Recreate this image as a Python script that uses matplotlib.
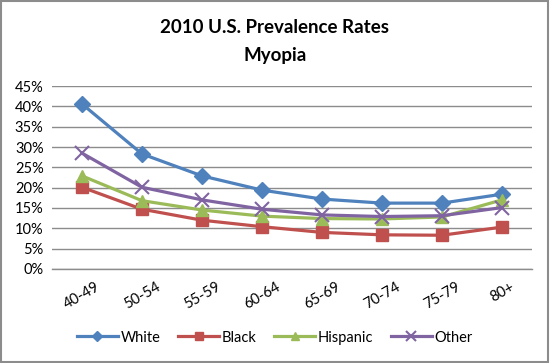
import matplotlib
matplotlib.use("Agg")
import matplotlib.pyplot as plt
import matplotlib.ticker as mticker
from matplotlib.patches import Rectangle
import numpy as np

FONT = "Lato"
plt.rcParams["font.family"] = [FONT, "DejaVu Sans"]

# ---------------------------------------------------------------------------
# Data (prevalence, fraction)
# ---------------------------------------------------------------------------
age_groups = ["40-49", "50-54", "55-59", "60-64", "65-69", "70-74", "75-79", "80+"]
white = [0.406, 0.283, 0.229, 0.194, 0.172, 0.162, 0.162, 0.184]
black = [0.201, 0.147, 0.120, 0.104, 0.090, 0.084, 0.083, 0.103]
hispanic = [0.229, 0.168, 0.145, 0.130, 0.124, 0.123, 0.128, 0.170]
other = [0.285, 0.201, 0.170, 0.147, 0.133, 0.129, 0.131, 0.151]

series = [
    ("White", white, "#4F81BD", "D", 8),
    ("Black", black, "#C0504D", "s", 9),
    ("Hispanic", hispanic, "#9BBB59", "^", 9),
    ("Other", other, "#8064A2", "x", 10),
]

fig = plt.figure(figsize=(5.5, 3.63), dpi=100)
fig.patch.set_facecolor("white")
ax = fig.add_axes([0.0945, 0.259, 0.8727, 0.504])

x = np.arange(len(age_groups))
for name, vals, color, marker, ms in series:
    kw = dict(markeredgecolor=color, markerfacecolor=color)
    if marker == "x":
        kw["markeredgewidth"] = 1.5
    ax.plot(x, vals, color=color, linewidth=2.3, marker=marker,
            markersize=ms, label=name, zorder=3, **kw)

ax.set_xlim(-0.5, len(age_groups) - 0.5)
ax.set_ylim(0, 0.45)
ax.set_yticks(np.arange(0, 0.451, 0.05))
ax.yaxis.set_major_formatter(mticker.FuncFormatter(lambda v, _: f"{v*100:.0f}%"))
ax.yaxis.grid(True, color="#8C8C8C", linewidth=1.0, zorder=0)
ax.set_axisbelow(True)
for s in ["top", "right", "left"]:
    ax.spines[s].set_visible(False)
ax.spines["bottom"].set_color("#8C8C8C")
ax.spines["bottom"].set_linewidth(1.0)
ax.tick_params(axis="both", length=0, labelsize=10.5, colors="black")
ax.tick_params(axis="y", pad=6)
ax.set_xticks(x)
ax.set_xticklabels(age_groups, rotation=30, ha="center", fontsize=10.5)
ax.tick_params(axis="x", pad=8)

fig.text(0.5, 0.925, "2010 U.S. Prevalence Rates", ha="center", va="center",
         fontsize=13.5, fontweight="bold")
fig.text(0.5, 0.848, "Myopia", ha="center", va="center",
         fontsize=13.5, fontweight="bold")

fig.legend(loc="center", bbox_to_anchor=(0.5, 0.07), ncol=4, frameon=False,
           fontsize=10.5, handlelength=2.8, handletextpad=0.2, columnspacing=1.2,
           markerscale=0.7)

fig.add_artist(Rectangle((0.002, 0.003), 0.995, 0.993, transform=fig.transFigure,
                         fill=False, edgecolor="#8C8C8C", linewidth=1.5))

fig.savefig("out.png", dpi=100, facecolor="white")
